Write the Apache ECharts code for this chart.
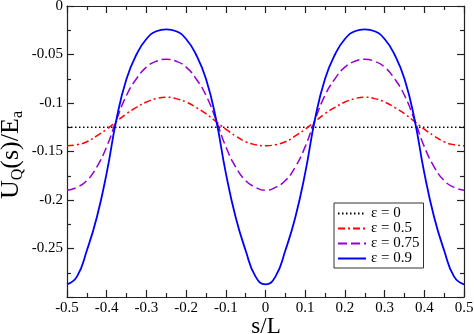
<!DOCTYPE html>
<html>
<head>
<meta charset="utf-8">
<script src="https://cdn.jsdelivr.net/npm/echarts@6/dist/echarts.min.js"></script>
<style>html,body{margin:0;padding:0;background:#fff;}#c{width:474px;height:334px;}</style>
</head>
<body>
<div id="c"></div>
<script>
// s/L sample positions
const sVals = [-0.5,-0.475,-0.45,-0.425,-0.4,-0.375,-0.35,-0.325,-0.3,-0.275,-0.25,
  -0.225,-0.2,-0.175,-0.15,-0.125,-0.1,-0.075,-0.05,-0.025,0,
  0.025,0.05,0.075,0.1,0.125,0.15,0.175,0.2,0.225,0.25,
  0.275,0.3,0.325,0.35,0.375,0.4,0.425,0.45,0.475,0.5];
// epsilon = 0 (flat)
const sFlat = [-0.5, 0.5];
const eps0 = [-0.125, -0.125];
// epsilon = 0.5
const eps05 = [-0.144,-0.143,-0.140,-0.134,-0.127,-0.119,-0.111,-0.1045,-0.099,-0.0955,-0.094,
  -0.0955,-0.099,-0.1045,-0.111,-0.119,-0.127,-0.134,-0.140,-0.143,-0.144,
  -0.143,-0.140,-0.134,-0.127,-0.119,-0.111,-0.1045,-0.099,-0.0955,-0.094,
  -0.0955,-0.099,-0.1045,-0.111,-0.119,-0.127,-0.134,-0.140,-0.143,-0.144];
// epsilon = 0.75
const eps075 = [-0.190,-0.187,-0.180,-0.166,-0.145,-0.117,-0.092,-0.075,-0.063,-0.057,-0.055,
  -0.057,-0.063,-0.075,-0.092,-0.117,-0.145,-0.166,-0.180,-0.187,-0.190,
  -0.187,-0.180,-0.166,-0.145,-0.117,-0.092,-0.075,-0.063,-0.057,-0.055,
  -0.057,-0.063,-0.075,-0.092,-0.117,-0.145,-0.166,-0.180,-0.187,-0.190];
// epsilon = 0.9
const eps09 = [-0.287,-0.279,-0.252,-0.218,-0.172,-0.116,-0.075,-0.050,-0.034,-0.026,-0.024,
  -0.026,-0.034,-0.050,-0.075,-0.116,-0.172,-0.218,-0.252,-0.279,-0.287,
  -0.279,-0.252,-0.218,-0.172,-0.116,-0.075,-0.050,-0.034,-0.026,-0.024,
  -0.026,-0.034,-0.050,-0.075,-0.116,-0.172,-0.218,-0.252,-0.279,-0.287];
const seriesNames = ['ε = 0', 'ε = 0.5', 'ε = 0.75', 'ε = 0.9'];
const xTitle = 's/L';
const yTitleRich = '{m|U}{s|Q}{m|(s)/E}{s|a}';

const FONT = '"Liberation Serif", "DejaVu Serif", serif';
const pairs = (xs, ys) => xs.map((x, i) => [x, ys[i]]);

const chart = echarts.init(document.getElementById('c'), null, {renderer: 'canvas'});
function axisCommon() {
  return {
    axisLine: {show: true, onZero: false, lineStyle: {color: '#222', width: 1.2}},
    axisTick: {show: true, inside: true, length: 7, lineStyle: {color: '#222', width: 1.2}},
    minorTick: {show: true, splitNumber: 2, length: 4, lineStyle: {color: '#222', width: 1.2}},
    splitLine: {show: false}
  };
}
const option = {
  backgroundColor: '#fff',
  animation: false,
  grid: {left: 67, top: 6, right: 10, bottom: 37, containLabel: false, outerBoundsMode: 'none'},
  graphic: [
    {type: 'text', x: 266, y: 327, silent: true,
      style: {text: xTitle, font: '23px "Liberation Serif", serif', fill: '#000',
        textAlign: 'center', textVerticalAlign: 'middle'}},
    {type: 'text', x: 11, y: 155, rotation: Math.PI / 2, silent: true,
      style: {text: yTitleRich, fill: '#000', font: '26px "Liberation Serif", serif',
        textAlign: 'center', textVerticalAlign: 'middle',
        rich: {
          m: {fontFamily: FONT, fontSize: 26, fill: '#000', color: '#000'},
          s: {fontFamily: FONT, fontSize: 16, fill: '#000', color: '#000', padding: [14, 0, 0, 0]}
        }}}
  ],
  xAxis: [
    Object.assign({
      type: 'value', min: -0.5, max: 0.5, interval: 0.1, position: 'bottom',
      axisLabel: {color: '#000', fontFamily: FONT, fontSize: 15, margin: 4}
    }, axisCommon()),
    Object.assign({
      type: 'value', min: -0.5, max: 0.5, interval: 0.1, position: 'top',
      axisLabel: {show: false}
    }, axisCommon())
  ],
  yAxis: [
    Object.assign({
      type: 'value', min: -0.3, max: 0, interval: 0.05, position: 'left',
      axisLabel: {color: '#000', fontFamily: FONT, fontSize: 15, margin: 4, showMinLabel: false,
        formatter: v => (Math.abs(v + 0.3) < 1e-9 ? '' : String(+v.toFixed(2)))}
    }, axisCommon()),
    Object.assign({
      type: 'value', min: -0.3, max: 0, interval: 0.05, position: 'right',
      axisLabel: {show: false}
    }, axisCommon())
  ],
  legend: {
    show: true, orient: 'vertical', left: 334, top: 203,
    data: seriesNames,
    backgroundColor: '#fff', borderColor: '#333', borderWidth: 1,
    padding: [3, 4, 2, 3], itemWidth: 28, itemHeight: 10, itemGap: 0,
    itemStyle: {opacity: 0, color: 'rgba(0,0,0,0)', borderWidth: 0},
    textStyle: {color: '#000', fontFamily: FONT, fontSize: 15, lineHeight: 13.6, padding: [0, 0, 0, 0]}
  },
  series: [
    {name: seriesNames[0], type: 'line', data: pairs(sFlat, eps0), showSymbol: false, symbol: 'none',
      lineStyle: {color: '#000', width: 1.5, type: [1.5, 2.5]}, itemStyle: {color: '#000'}},
    {name: seriesNames[1], type: 'line', data: pairs(sVals, eps05), showSymbol: false, symbol: 'none', smooth: true,
      lineStyle: {color: '#ff0000', width: 1.5, type: [7, 3, 2, 3]}, itemStyle: {color: '#ff0000'}},
    {name: seriesNames[2], type: 'line', data: pairs(sVals, eps075), showSymbol: false, symbol: 'none', smooth: true,
      lineStyle: {color: '#9400d3', width: 1.5, type: [9, 4]}, itemStyle: {color: '#9400d3'}},
    {name: seriesNames[3], type: 'line', data: pairs(sVals, eps09), showSymbol: false, symbol: 'none', smooth: true,
      lineStyle: {color: '#0000ff', width: 1.8}, itemStyle: {color: '#0000ff'}}
  ]
};
chart.setOption(option);
</script>
</body>
</html>
